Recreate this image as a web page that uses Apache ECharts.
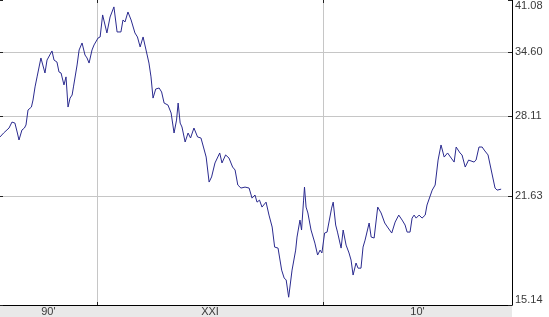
<!DOCTYPE html>
<html>
<head>
<meta charset="utf-8">
<script src="https://cdn.jsdelivr.net/npm/echarts@6/dist/echarts.min.js"></script>
<style>html,body{margin:0;padding:0;background:#fff}#c{width:549px;height:317px}</style>
</head>
<body>
<div id="c"></div>
<script>
const years = [1995.71,1995.87,1996.11,1996.24,1996.37,1996.48,1996.55,1996.68,1996.79,1996.86,1996.95,1997.10,1997.17,1997.26,1997.35,1997.41,1997.52,1997.70,1997.79,1998.01,1998.10,1998.23,1998.32,1998.41,1998.54,1998.63,1998.72,1998.81,1998.90,1998.96,1999.12,1999.21,1999.34,1999.47,1999.56,1999.65,1999.78,1999.87,2000.05,2000.14,2000.25,2000.44,2000.58,2000.75,2000.89,2001.06,2001.15,2001.24,2001.37,2001.51,2001.68,2001.79,2001.91,2002.04,2002.17,2002.30,2002.39,2002.48,2002.60,2002.75,2002.86,2002.97,2003.14,2003.28,2003.41,2003.52,2003.59,2003.68,2003.76,2003.90,2004.03,2004.14,2004.29,2004.45,2004.60,2004.71,2004.83,2004.96,2005.07,2005.22,2005.43,2005.53,2005.69,2005.84,2006.00,2006.11,2006.23,2006.37,2006.55,2006.73,2006.86,2006.99,2007.08,2007.19,2007.30,2007.48,2007.61,2007.75,2007.86,2008.01,2008.17,2008.28,2008.37,2008.48,2008.63,2008.79,2008.85,2008.98,2009.05,2009.14,2009.18,2009.25,2009.33,2009.47,2009.64,2009.76,2009.87,2009.95,2010.07,2010.18,2010.25,2010.38,2010.45,2010.56,2010.64,2010.80,2010.89,2011.02,2011.15,2011.24,2011.33,2011.46,2011.55,2011.68,2011.77,2011.86,2012.04,2012.13,2012.26,2012.42,2012.57,2012.73,2012.88,2013.04,2013.19,2013.35,2013.50,2013.63,2013.72,2013.85,2013.94,2014.03,2014.12,2014.25,2014.38,2014.52,2014.60,2014.83,2014.96,2015.09,2015.22,2015.36,2015.51,2015.67,2015.80,2015.89,2016.06,2016.15,2016.29,2016.44,2016.68,2016.77,2016.90,2017.04,2017.13,2017.30,2017.44,2017.61,2017.70,2017.88];
const prices = [26.24,26.58,27.02,27.55,27.46,26.58,25.98,26.84,27.02,27.29,28.66,28.94,29.61,30.91,31.94,32.14,33.98,32.35,33.75,34.77,33.75,33.53,32.46,32.35,31.11,31.94,28.94,29.80,30.10,30.91,33.21,34.88,35.69,34.31,33.98,33.42,34.88,35.46,36.28,36.40,39.12,36.88,38.86,40.16,37.00,37.00,38.48,38.23,39.50,38.48,36.88,36.40,35.23,36.40,34.88,33.42,31.94,29.80,30.70,30.80,30.40,29.32,29.13,28.38,26.58,27.73,29.32,27.46,27.11,25.81,26.58,26.15,27.02,26.24,26.15,25.39,24.57,22.64,23.02,24.10,24.90,24.10,24.74,24.49,23.78,23.55,22.42,22.20,22.27,22.20,21.48,21.70,21.20,21.34,20.86,21.20,20.32,19.54,18.30,18.24,16.97,16.54,16.43,15.53,16.97,18.12,18.91,19.99,19.35,21.34,22.27,20.86,20.46,19.35,18.54,17.83,18.12,17.95,19.16,19.22,19.16,20.79,21.20,19.67,19.22,18.24,19.35,18.42,17.95,17.54,16.70,17.37,17.08,17.08,18.30,18.72,19.80,18.91,18.85,20.86,20.46,19.80,19.48,19.16,19.86,20.32,19.99,19.67,19.22,19.22,20.12,20.32,20.12,20.32,20.12,20.32,21.00,22.05,22.42,24.33,25.56,24.57,24.90,24.49,24.17,25.39,24.90,24.74,23.78,24.33,24.17,24.33,25.39,25.39,25.14,24.74,23.55,22.20,22.05,22.12];
const yTicks = [15.14, 21.63, 28.11, 34.60, 41.08];
const xGridYears = [2000, 2010];
const xLabelPos = [1997.85, 2005, 2014.18];
const xLabelText = ["90'", "XXI", "10'"];
const xMin = 1995.71, xMax = 2018.36;

const chart = echarts.init(document.getElementById('c'), null, {renderer: 'canvas'});
const lab = {fontFamily: 'Liberation Sans, Arial, sans-serif', fontSize: 11, color: '#3a3a3a'};
const gridCol = '#c6c6c6';
chart.setOption({
  animation: false,
  grid: {left: 0, right: 37, top: 0, bottom: 11, containLabel: false},
  graphic: [{type: 'rect', z: -10, shape: {x: 0, y: 306, width: 512, height: 11}, style: {fill: '#e9e9e9'}}],
  xAxis: [{
    type: 'value', min: xMin, max: xMax, position: 'bottom',
    axisLine: {show: true, lineStyle: {color: '#000', width: 1}},
    axisTick: {show: true, inside: true, length: 3, customValues: xGridYears, lineStyle: {color: '#222'}},
    splitLine: {show: true, lineStyle: {color: gridCol, width: 1}},
    axisLabel: Object.assign({customValues: xLabelPos, margin: 1,
      formatter: v => { const i = xLabelPos.findIndex(p => Math.abs(p - v) < 0.01); return i >= 0 ? xLabelText[i] : ''; }}, lab)
  }, {
    type: 'value', min: xMin, max: xMax, position: 'top',
    axisLine: {show: false},
    axisTick: {show: true, inside: true, length: 3, customValues: xGridYears, lineStyle: {color: '#222'}},
    splitLine: {show: false}, axisLabel: {show: false}
  }],
  yAxis: [{
    type: 'log', logBase: 10, min: 15.14, max: 41.08, position: 'right',
    axisLine: {show: true, lineStyle: {color: '#000', width: 1}},
    axisTick: {show: true, inside: true, length: 4, customValues: yTicks, lineStyle: {color: '#222'}},
    splitLine: {show: true, lineStyle: {color: [gridCol, gridCol, gridCol, gridCol, 'rgba(0,0,0,0)'], width: 1}},
    axisLabel: Object.assign({customValues: yTicks, margin: 3, formatter: v => Number(v).toFixed(2),
      verticalAlignMinLabel: 'bottom', verticalAlignMaxLabel: 'top'}, lab)
  }, {
    type: 'log', logBase: 10, min: 15.14, max: 41.08, position: 'left',
    axisLine: {show: false},
    axisTick: {show: true, inside: true, length: 3, customValues: yTicks, lineStyle: {color: '#222'}},
    splitLine: {show: false}, axisLabel: {show: false}
  }],
  series: [{
    type: 'line', xAxisIndex: 0, yAxisIndex: 0,
    data: years.map((y, i) => [y, prices[i]]),
    showSymbol: false, symbol: 'none',
    lineStyle: {color: '#2b2b8f', width: 1},
    z: 5
  }]
});
</script>
</body>
</html>
